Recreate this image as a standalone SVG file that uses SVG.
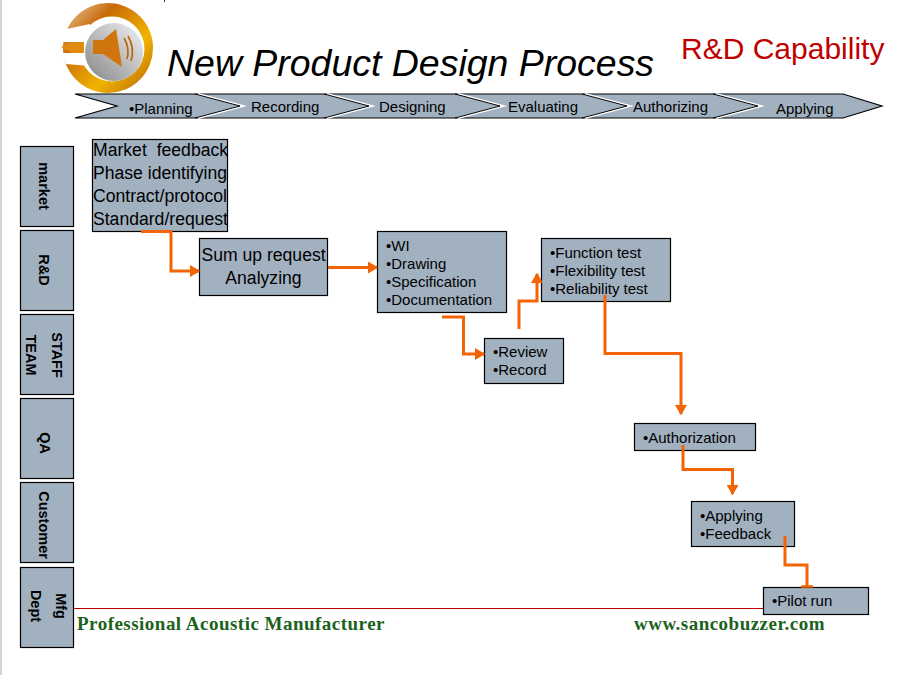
<svg xmlns="http://www.w3.org/2000/svg" width="901" height="675" viewBox="0 0 901 675">
<style>
text{font-family:"Liberation Sans",Arial,sans-serif;fill:#000}
.b{fill:#a2b1c0;stroke:#000;stroke-width:1.2}
.c{fill:none;stroke:#f26405;stroke-width:3}
.t{font-size:15px}
.m{font-size:17.6px}
.s{font-size:15px}
.v{font-size:14.500px;font-weight:bold;text-anchor:middle}
.f{font-family:"Liberation Serif",serif;font-weight:bold;font-size:19px;fill:#1c621c;letter-spacing:.48px}
.w{fill:none;stroke:#fff;stroke-width:2}
.k{fill:none;stroke:#000;stroke-width:1}
.e{fill:none;stroke:#000;stroke-width:1.2}
</style>
<defs>
<marker id="a" markerWidth="4" markerHeight="4" refX="3" refY="2" orient="auto"><path d="M0 0L3.4 2L0 4Z" fill="#f26405"/></marker>
<linearGradient id="g1" x1="0" y1="0" x2="1" y2="1"><stop offset="0" stop-color="#ead2b0"/><stop offset=".3" stop-color="#c96a08"/><stop offset=".65" stop-color="#f0b400"/><stop offset="1" stop-color="#b86206"/></linearGradient>
<linearGradient id="g2" x1="1" y1="0" x2="0" y2="1"><stop offset="0" stop-color="#f2f2f2"/><stop offset="1" stop-color="#858585"/></linearGradient>
<path id="ch" d="M0 94L45 106L0 118"/>
</defs>
<rect x="0" y="0" width="2" height="675" fill="#d4d4d4"/>
<rect x="164" y="0" width="1" height="2" fill="#333"/>

<g id="logo">
<circle cx="108" cy="48" r="45" fill="url(#g1)"/>
<circle cx="112" cy="49" r="32.500" fill="#fff"/>
<path d="M62 30L90 24V42H62Z" fill="#fff"/>
<path d="M62 53H90V66L66 64Z" fill="#fff"/>
<path d="M61 47L72 42H84V53H72Z" fill="#e08a10"/>
<circle cx="114" cy="52" r="29" fill="url(#g2)"/>
<path d="M93 40H103L116 29L122 67L103 54H93Z" fill="#d0740e"/>
<path d="M124 38Q130 48 127 59M128 36Q135 48 131 61" fill="none" stroke="#b8620a" stroke-width="1.6"/>
</g>

<g id="title">
<text x="167" y="76" font-size="37.460" font-style="italic">New Product Design Process</text>
<text x="681" y="59" font-size="30" style="fill:#c00000">R&amp;D Capability</text>
</g>

<g id="chevrons">
<path d="M75 94H843L882 106L843 118H75L117 106Z" fill="#a2b1c0"/>
<path class="e" d="M75 94H843L882 106L843 118H75L117 106Z"/>
<use href="#ch" x="198" class="w"/><use href="#ch" x="195" class="k"/>
<use href="#ch" x="327" class="w"/><use href="#ch" x="324" class="k"/>
<use href="#ch" x="458" class="w"/><use href="#ch" x="455" class="k"/>
<use href="#ch" x="585" class="w"/><use href="#ch" x="582" class="k"/>
<use href="#ch" x="716" class="w"/><use href="#ch" x="713" class="k"/>
<text class="s" x="129" y="114">•Planning</text>
<text class="s" x="251" y="112">Recording</text>
<text class="s" x="379" y="112">Designing</text>
<text class="s" x="508" y="112">Evaluating</text>
<text class="s" x="633" y="112">Authorizing</text>
<text class="s" x="776" y="114">Applying</text>
</g>

<g id="lane-market"><rect class="b" x="20.500" y="146.500" width="53" height="80"/><text class="v" transform="translate(39 186) rotate(90)">market</text></g>
<g id="lane-rd"><rect class="b" x="20.500" y="230.500" width="53" height="80"/><text class="v" transform="translate(39 270) rotate(90)">R&amp;D</text></g>
<g id="lane-staff"><rect class="b" x="20.500" y="314.500" width="53" height="80"/><text class="v" transform="translate(39 355) rotate(90)"><tspan x="0" y="-13">STAFF</tspan><tspan x="0" y="13">TEAM</tspan></text></g>
<g id="lane-qa"><rect class="b" x="20.500" y="398.500" width="53" height="80"/><text class="v" transform="translate(40 443) rotate(90)">QA</text></g>
<g id="lane-customer"><rect class="b" x="20.500" y="482.500" width="53" height="80"/><text class="v" transform="translate(39 525) rotate(90)">Customer</text></g>
<g id="lane-mfg"><rect class="b" x="20.500" y="567.500" width="53" height="80"/><text class="v" transform="translate(39 606) rotate(90)"><tspan x="0" y="-17">Mfg</tspan><tspan x="0" y="8">Dept</tspan></text></g>

<g id="n-market"><rect class="b" x="92.500" y="139.500" width="135" height="92"/>
<text class="m" x="93" y="156" word-spacing="5">Market feedback</text><text class="m" x="93" y="179">Phase identifying</text><text class="m" x="93" y="202">Contract/protocol</text><text class="m" x="93" y="225">Standard/request</text></g>
<g id="n-sum"><rect class="b" x="199.500" y="238.500" width="128" height="57"/>
<text class="m" x="263.500" y="261" text-anchor="middle">Sum up request</text><text class="m" x="263.500" y="284" text-anchor="middle">Analyzing</text></g>
<g id="n-wi"><rect class="b" x="377.500" y="231.500" width="129" height="81"/>
<text class="t" x="386" y="251">•WI</text><text class="t" x="386" y="269">•Drawing</text><text class="t" x="386" y="287">•Specification</text><text class="t" x="386" y="305">•Documentation</text></g>
<g id="n-tests"><rect class="b" x="541.500" y="238.500" width="129" height="63"/>
<text class="t" x="550" y="258">•Function test</text><text class="t" x="550" y="276">•Flexibility test</text><text class="t" x="550" y="294">•Reliability test</text></g>
<g id="n-review"><rect class="b" x="484.500" y="338.500" width="79" height="45"/>
<text class="t" x="493" y="357">•Review</text><text class="t" x="493" y="375">•Record</text></g>
<g id="n-auth"><rect class="b" x="634.500" y="423.500" width="121" height="27"/>
<text class="t" x="643" y="443">•Authorization</text></g>
<g id="n-apply"><rect class="b" x="691.500" y="501.500" width="103" height="45"/>
<text class="t" x="700" y="521">•Applying</text><text class="t" x="700" y="539">•Feedback</text></g>
<g id="n-pilot"><rect class="b" x="763.500" y="587.500" width="105" height="27"/>
<text class="t" x="772" y="606">•Pilot run</text></g>

<g id="connectors">
<path class="c" marker-end="url(#a)" d="M141 231.500H171V271H199"/>
<path class="c" marker-end="url(#a)" d="M328 267.500H377"/>
<path class="c" marker-end="url(#a)" d="M442 317H463.500V354H484"/>
<path class="c" marker-end="url(#a)" d="M519 329V301H537V274"/>
<path class="c" marker-end="url(#a)" d="M605 295V353.500H681V414"/>
<path class="c" marker-end="url(#a)" d="M683 445V469.500H732.500V494"/>
<path class="c" d="M785 536V565H807V587"/>
<path d="M801 586.500H813" stroke="#f26405" stroke-width="2.500"/>
<path d="M74 608.500H763" stroke="#c00000" stroke-width="1"/>
</g>

<g id="footer">
<text class="f" x="77" y="630">Professional Acoustic Manufacturer</text>
<text class="f" x="634" y="630">www.sancobuzzer.com</text>
</g>
</svg>
